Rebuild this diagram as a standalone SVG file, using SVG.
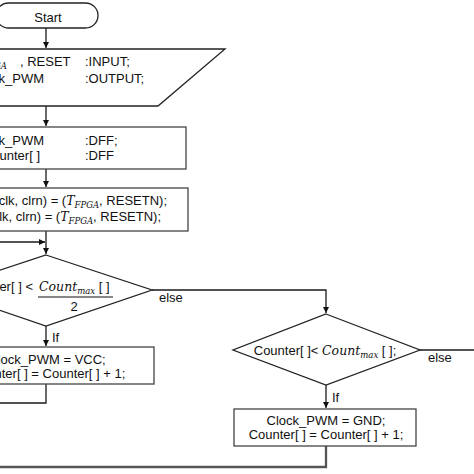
<svg xmlns="http://www.w3.org/2000/svg" width="474" height="474" viewBox="0 0 474 474">
<style>
.s{fill:#fff;stroke:#222;stroke-width:1.3}
.r{fill:#fff;stroke:#444;stroke-width:1.3}
.c{fill:none;stroke:#1a1a1a;stroke-width:1.3}
.t{font-family:"Liberation Sans",Arial,sans-serif;font-size:13px;fill:#111}
.m{font-family:"DejaVu Serif","Liberation Serif",serif;font-style:italic;font-size:12.5px}
.sb{font-family:"DejaVu Serif","Liberation Serif",serif;font-style:italic;font-size:8.5px}
</style>
<defs>
<marker id="ah" markerUnits="userSpaceOnUse" markerWidth="7" markerHeight="7" refX="6" refY="3" orient="auto">
<path d="M0,0 L6,3 L0,6 z" fill="#111"/>
</marker>
</defs>
<rect width="474" height="474" fill="#fff"/>

<g id="connectors">
<path class="c" d="M46,28 V48" marker-end="url(#ah)"/>
<path class="c" d="M46,106 V126" marker-end="url(#ah)"/>
<path class="c" d="M46,169 V187" marker-end="url(#ah)"/>
<path class="c" d="M46,231 V254" marker-end="url(#ah)"/>
<path class="c" d="M-5,242 H45" marker-end="url(#ah)"/>
<path class="c" d="M46,326 V346" marker-end="url(#ah)"/>
<path class="c" d="M152,290 H326 V313" marker-end="url(#ah)"/>
<path class="c" d="M326,385 V408" marker-end="url(#ah)"/>
<path class="c" d="M420,350 H480"/>
<path class="c" d="M46,384 V403 H-5"/>
<path d="M326,446 V467 H-5" fill="none" stroke="#555" stroke-width="2.3"/>
</g>

<g id="start">
<rect class="s" x="-4" y="3" width="102" height="25" rx="12.5"/>
<text class="t" x="48" y="22" text-anchor="middle">Start</text>
</g>

<g id="io">
<path class="s" d="M-10,49 H225 L158,106 H-10 Z"/>
<text class="t" x="7" y="66" text-anchor="end"><tspan class="m">T</tspan><tspan class="sb" dy="3">FPGA</tspan></text>
<text class="t" x="20" y="66">, RESET</text>
<text class="t" x="85" y="66">:INPUT;</text>
<text class="t" x="44" y="83" text-anchor="end">Clock_PWM</text>
<text class="t" x="85" y="83">:OUTPUT;</text>
</g>

<g id="decl">
<rect class="r" x="-10" y="127" width="196" height="42"/>
<text class="t" x="44" y="145" text-anchor="end">Clock_PWM</text>
<text class="t" x="85" y="145">:DFF;</text>
<text class="t" x="40" y="160" text-anchor="end">Counter[ ]</text>
<text class="t" x="85" y="160">:DFF</text>
</g>

<g id="assign">
<rect class="r" x="-10" y="188" width="198" height="43"/>
<text class="t" x="167" y="205" text-anchor="end">(clk, clrn) = (<tspan class="m">T</tspan><tspan class="sb" dy="3">FPGA</tspan><tspan dy="-3">, RESETN);</tspan></text>
<text class="t" x="161" y="221" text-anchor="end">(clk, clrn) = (<tspan class="m">T</tspan><tspan class="sb" dy="3">FPGA</tspan><tspan dy="-3">, RESETN);</tspan></text>
</g>

<g id="dec1">
<path class="s" d="M46,255 L152,290 L46,326 L-60,290 Z"/>
<text class="t" x="33" y="291" text-anchor="end">Counter[ ] &lt;</text>
<text class="t" x="39" y="291"><tspan class="m">Count</tspan><tspan class="sb" dy="3">max</tspan><tspan dy="-3"> [ ]</tspan></text>
<line x1="38" y1="297" x2="113" y2="297" stroke="#111" stroke-width="1"/>
<text class="t" x="74" y="311" text-anchor="middle">2</text>
<text class="t" x="159" y="302">else</text>
<text class="t" x="52" y="342">If</text>
</g>

<g id="vcc">
<rect class="r" x="-62" y="347" width="216" height="37"/>
<text class="t" x="47" y="364" text-anchor="middle">Clock_PWM = VCC;</text>
<text class="t" x="48" y="378" text-anchor="middle">Counter[ ] = Counter[ ] + 1;</text>
</g>

<g id="dec2">
<path class="s" d="M326,314 L420,350 L326,385 L233,350 Z"/>
<text class="t" x="325" y="355" text-anchor="middle">Counter[ ]&lt; <tspan class="m">Count</tspan><tspan class="sb" dy="3">max</tspan><tspan dy="-3"> [ ];</tspan></text>
<text class="t" x="428" y="362">else</text>
<text class="t" x="332" y="402">If</text>
</g>

<g id="gnd">
<rect class="r" x="234" y="409" width="182" height="37"/>
<text class="t" x="326" y="425" text-anchor="middle">Clock_PWM = GND;</text>
<text class="t" x="326" y="439" text-anchor="middle">Counter[ ] = Counter[ ] + 1;</text>
</g>
</svg>
